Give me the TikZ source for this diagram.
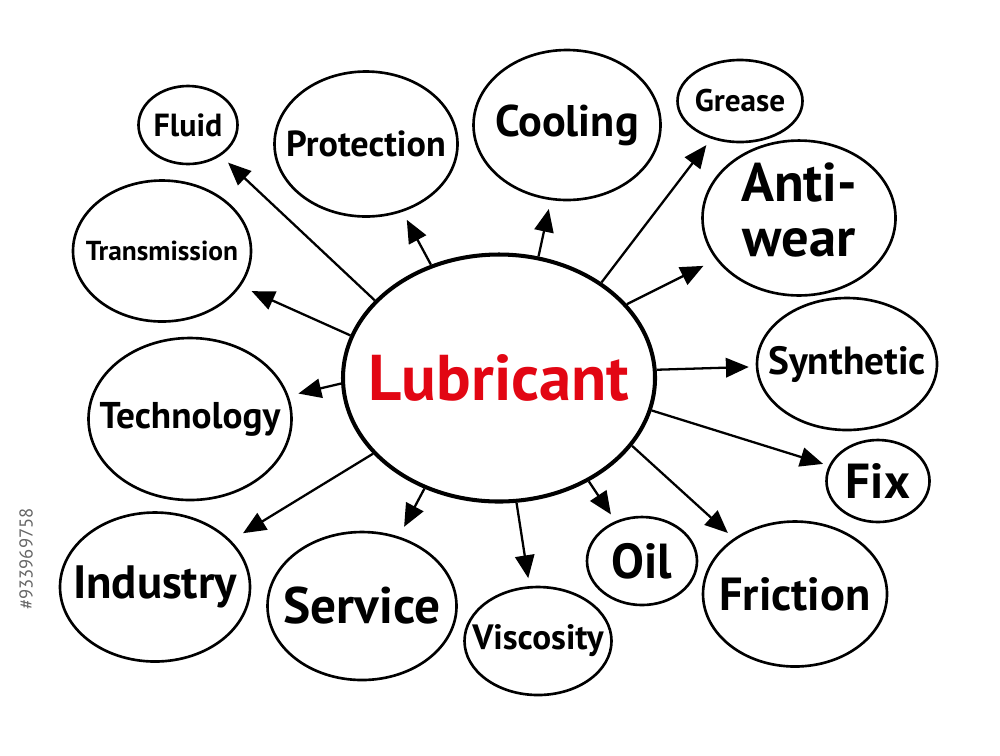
\documentclass[tikz,border=0pt]{standalone}
\usepackage{fontspec}
\usepackage{tikz}
\usetikzlibrary{arrows.meta}
\usetikzlibrary{shapes.geometric}
\setmainfont{PT Sans}
\definecolor{lubred}{RGB}{226, 6, 19}
\newcommand{\hand}[1]{\fontsize{#1}{#1}\selectfont\bfseries}
\pgfdeclareradialshading{vignette}{\pgfpoint{0bp}{0bp}}{color(0bp)=(white); color(40bp)=(white); color(55bp)=(black!4); color(71bp)=(black!12)}
% the ellipse keeps the size it is given, the word is centred in it
\tikzset{idea/.style = {ellipse, draw, line width = 0.75pt, inner sep = 0pt,
                        execute at begin node = {\hbox to 0pt\bgroup\hss},
                        execute at end node = {\hss\egroup}},
         branch/.style = {line width = 0.65pt, -{Triangle[length = 6.5pt, width = 5.5pt]}}}

\begin{document}
\begin{tikzpicture}
    \useasboundingbox (0, 0) rectangle (10, 7.55);
    \shade [shading = vignette] (0, 0) rectangle (10, 7.55);

    \node [idea, line width = 1.15pt, minimum width = 3.12cm, minimum height = 2.47cm,
           text = lubred, font = \hand{18.4}] (lubricant) at (4.99, 3.77) {Lubricant};

    \node [idea, minimum width = 0.99cm, minimum height = 0.78cm, font = \hand{9.1}] (fluid) at (1.88, 6.30) {Fluid};
    \node [idea, minimum width = 1.83cm, minimum height = 1.45cm, font = \hand{10.3}] (protection) at (3.66, 6.11) {Protection};
    \node [idea, minimum width = 1.87cm, minimum height = 1.50cm, font = \hand{12.6}] (cooling) at (5.67, 6.30) {Cooling};
    \node [idea, minimum width = 1.25cm, minimum height = 0.82cm, font = \hand{8.9}] (grease) at (7.40, 6.54) {Grease};
    \node [idea, minimum width = 1.93cm, minimum height = 1.40cm, font = \hand{15.5}] (antiwear) at (7.99, 5.37)
          {\begin{tabular}{@{}c@{}}Anti-\\wear\end{tabular}};
    \node [idea, minimum width = 1.78cm, minimum height = 1.41cm, font = \hand{7.8}] (transmission) at (1.62, 5.04) {Transmission};
    \node [idea, minimum width = 2.03cm, minimum height = 1.62cm, font = \hand{10.6}] (technology) at (1.90, 3.36) {Technology};
    \node [idea, minimum width = 1.80cm, minimum height = 1.32cm, font = \hand{11.2}] (synthetic) at (8.47, 3.91) {Synthetic};
    \node [idea, minimum width = 1.03cm, minimum height = 0.82cm, font = \hand{14}] (fix) at (8.78, 2.74) {Fix};
    \node [idea, minimum width = 1.90cm, minimum height = 1.49cm, font = \hand{13.3}] (industry) at (1.55, 1.68) {Industry};
    \node [idea, minimum width = 1.89cm, minimum height = 1.48cm, font = \hand{14.6}] (service) at (3.62, 1.49) {Service};
    \node [idea, minimum width = 1.47cm, minimum height = 1.08cm, font = \hand{10}] (viscosity) at (5.38, 1.14) {Viscosity};
    \node [idea, minimum width = 1.10cm, minimum height = 0.88cm, font = \hand{14}] (oil) at (6.42, 1.94) {Oil};
    \node [idea, minimum width = 1.84cm, minimum height = 1.45cm, font = \hand{13.2}] (friction) at (7.95, 1.61) {Friction};

    % arrows out of the centre: start angle / target / gap
    \foreach \a/\t/\g in {148/fluid/0.10, 121/protection/0.09, 72/cooling/0.09, 43/grease/0.08,
                          30/antiwear/0.14, 3/synthetic/0.07, 348/fix/0.06, 333/friction/0.08,
                          311/oil/0.08, 278/viscosity/0.08, 236/service/0.11, 211/industry/0.14,
                          182/technology/0.10, 164/transmission/0.12}
      \draw [branch, shorten > = \g cm] (lubricant.\a) -- (\t);

    \node [rotate = 90, text = black!60, font = \fontsize{5.3}{5.3}\selectfont] (stockid) at (0.26, 1.96) {\#933969758};
\end{tikzpicture}
\end{document}
